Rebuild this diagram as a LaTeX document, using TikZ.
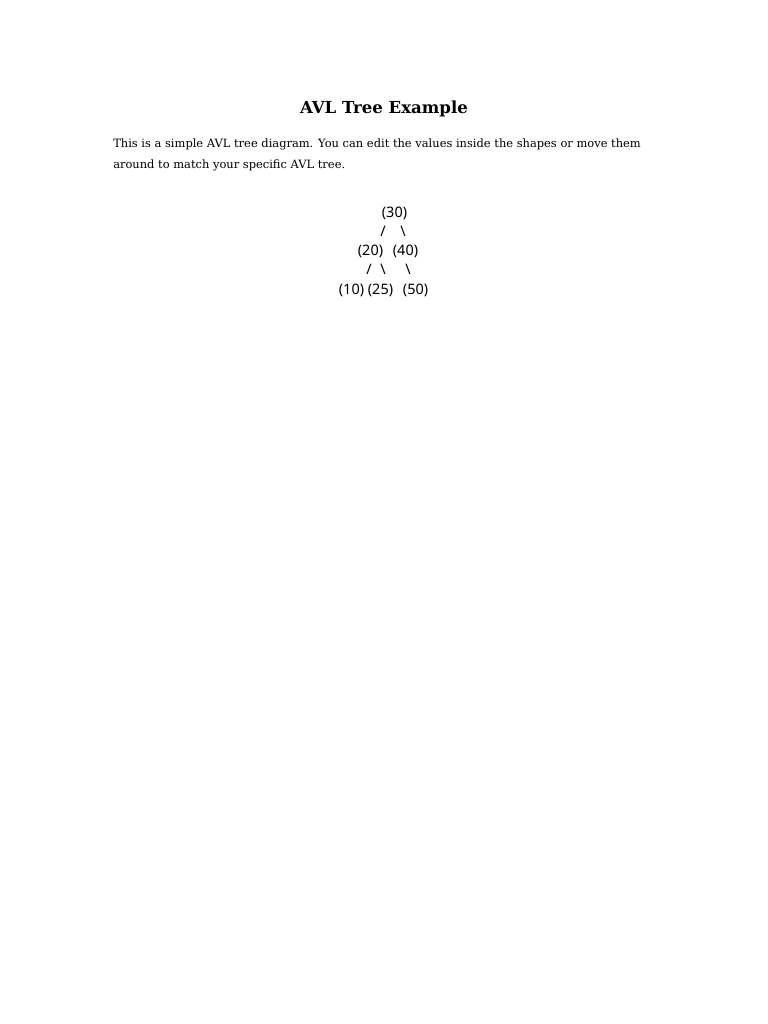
\documentclass[tikz,border=0pt]{standalone}
\usepackage{fontspec}
\setmainfont{DejaVu Serif}
\newfontfamily\treefont{Noto Sans}
\usepackage{tikz}

\begin{document}
\begin{tikzpicture}[x=0.797pt,y=-0.797pt]
  \tikzset{body/.style={anchor=base west,inner sep=0pt,font=\fontsize{9.13}{12}\selectfont},
    key/.style={anchor=base,inner sep=0pt,font=\treefont\fontsize{11.5}{14}\selectfont}}
  \useasboundingbox[fill=white] (0,0) rectangle (768,1024);
  \node[inner sep=0pt,anchor=base,font=\bfseries\fontsize{13.2}{16}\selectfont] at (384,113) (title) {AVL Tree Example};
  \node[body] at (113,147) (line1) {This is a simple AVL tree diagram. You can edit the values inside the shapes or move them};
  \node[body] at (113,168) (line2) {around to match your specific AVL tree.};
  \node[key] at (394.5,217) (n30) {(30)};
  \node[key] at (383,236) (s1) {/};
  \node[key] at (403,236) (s2) {\textbackslash};
  \node[key] at (370.5,255) (n20) {(20)};
  \node[key] at (405.5,255) (n40) {(40)};
  \node[key] at (369,274) (s3) {/};
  \node[key] at (383,274) (s4) {\textbackslash};
  \node[key] at (408,274) (s5) {\textbackslash};
  \node[key] at (351.5,294) (n10) {(10)};
  \node[key] at (380.5,294) (n25) {(25)};
  \node[key] at (415.5,294) (n50) {(50)};
\end{tikzpicture}
\end{document}
